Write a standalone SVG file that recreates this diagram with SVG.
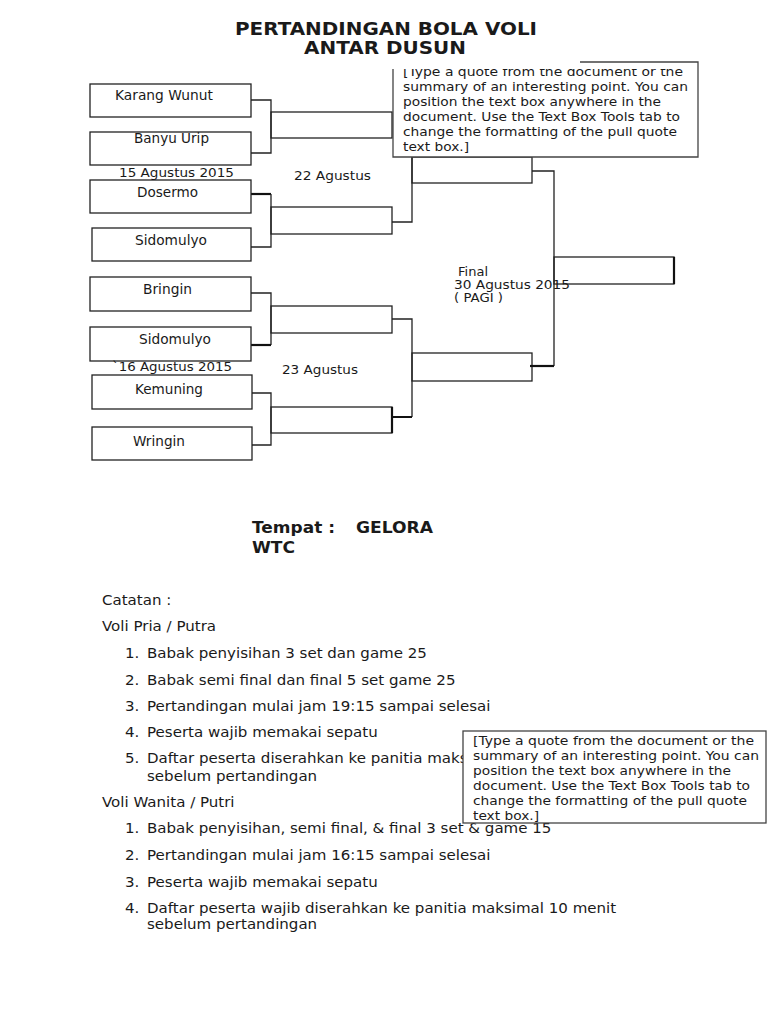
<svg xmlns="http://www.w3.org/2000/svg" width="768" height="1024" viewBox="0 0 768 1024">
<style>
text{font-family:"DejaVu Sans","Liberation Sans",sans-serif;fill:#1a1a1a}
.title{font-size:18px;font-weight:bold;text-anchor:middle}
.team{font-size:13.5px;text-anchor:middle}
.date{font-size:13px}
.box{fill:#fff;stroke:#222;stroke-width:1.3}
.ln{fill:none;stroke:#222;stroke-width:1.3}
.thick{fill:none;stroke:#111;stroke-width:2.2}
.quote{font-size:12.8px}
.qbox{fill:#fff;stroke:#444;stroke-width:1.3}
.body{font-size:14px}
.bold{font-size:16px;font-weight:bold}
</style>
<defs>
<clipPath id="qclip"><rect x="380" y="69" width="330" height="100"/></clipPath>
</defs>
<rect width="768" height="1024" fill="#fff"/>

<g id="title">
<text class="title" x="386" y="35" textLength="302" lengthAdjust="spacingAndGlyphs">PERTANDINGAN BOLA VOLI</text>
<text class="title" x="385" y="54" textLength="162" lengthAdjust="spacingAndGlyphs">ANTAR DUSUN</text>
</g>

<g id="connectors">
<path class="ln" d="M251,100 H271 V153 H251"/>
<rect class="ln" x="271" y="112" width="121" height="26"/>
<path class="thick" d="M251,194 H271"/>
<path class="ln" d="M271,194 V247 H251"/>
<rect class="ln" x="271" y="207" width="121" height="27"/>
<path class="ln" d="M392,222 H412 V157"/>
<rect class="ln" x="412" y="157" width="120" height="26"/>
<path class="ln" d="M251,293 H271 V345"/>
<path class="thick" d="M251,345 H271"/>
<rect class="ln" x="271" y="306" width="121" height="27"/>
<path class="ln" d="M252,393 H271 V445 H252"/>
<rect class="ln" x="271" y="407" width="121" height="26"/>
<path class="ln" d="M392,319 H412 V417"/>
<path class="thick" d="M392,417 H412 M392,407 V433"/>
<rect class="ln" x="412" y="353" width="120" height="28"/>
<path class="ln" d="M532,171 H554 V366"/>
<path class="thick" d="M530,366 H554"/>
<rect class="ln" x="554" y="257" width="120" height="27"/>
<path class="thick" d="M674,257 V284"/>
</g>

<g id="team-karang-wunut"><rect class="box" x="90" y="84" width="161" height="33"/><text class="team" x="164" y="100" textLength="98" lengthAdjust="spacingAndGlyphs">Karang Wunut</text></g>
<g id="team-banyu-urip"><rect class="box" x="90" y="132" width="161" height="33"/><text class="team" x="171.5" y="143" textLength="75" lengthAdjust="spacingAndGlyphs">Banyu Urip</text></g>
<g id="team-dosermo"><rect class="box" x="90" y="180" width="161" height="33"/><text class="team" x="167.5" y="197" textLength="61" lengthAdjust="spacingAndGlyphs">Dosermo</text></g>
<g id="team-sidomulyo-1"><rect class="box" x="92" y="228" width="159" height="33"/><text class="team" x="171" y="245" textLength="72" lengthAdjust="spacingAndGlyphs">Sidomulyo</text></g>
<g id="team-bringin"><rect class="box" x="90" y="277" width="161" height="34"/><text class="team" x="167.5" y="294" textLength="49" lengthAdjust="spacingAndGlyphs">Bringin</text></g>
<g id="team-sidomulyo-2"><rect class="box" x="90" y="327" width="161" height="34"/><text class="team" x="175" y="344" textLength="72" lengthAdjust="spacingAndGlyphs">Sidomulyo</text></g>
<g id="team-kemuning"><rect class="box" x="92" y="375" width="160" height="34"/><text class="team" x="169" y="394" textLength="68" lengthAdjust="spacingAndGlyphs">Kemuning</text></g>
<g id="team-wringin"><rect class="box" x="92" y="427" width="160" height="33"/><text class="team" x="159" y="446" textLength="52" lengthAdjust="spacingAndGlyphs">Wringin</text></g>

<g id="dates">
<text class="date" x="119" y="177" textLength="115" lengthAdjust="spacingAndGlyphs">15 Agustus 2015</text>
<text class="date" x="294" y="180" textLength="77" lengthAdjust="spacingAndGlyphs">22 Agustus</text>
<text class="date" x="112" y="371" textLength="120" lengthAdjust="spacingAndGlyphs">`16 Agustus 2015</text>
<text class="date" x="282" y="374" textLength="76" lengthAdjust="spacingAndGlyphs">23 Agustus</text>
<text class="date" x="458" y="276" textLength="30" lengthAdjust="spacingAndGlyphs">Final</text>
<text class="date" x="454" y="289" textLength="116" lengthAdjust="spacingAndGlyphs">30 Agustus 2015</text>
<text class="date" x="454" y="302" textLength="49" lengthAdjust="spacingAndGlyphs">( PAGI )</text>
</g>

<g id="quote-1">
<rect x="393" y="62" width="305" height="95" fill="#fff"/>
<path class="ln" d="M580,62 H698 V157 H393 V69" style="stroke:#444"/>
<g clip-path="url(#qclip)">
<text class="quote" x="403" y="76" textLength="280" lengthAdjust="spacingAndGlyphs">[Type a quote from the document or the</text>
</g>
<text class="quote" x="403" y="91" textLength="285" lengthAdjust="spacingAndGlyphs">summary of an interesting point. You can</text>
<text class="quote" x="403" y="106" textLength="258" lengthAdjust="spacingAndGlyphs">position the text box anywhere in the</text>
<text class="quote" x="403" y="121" textLength="277" lengthAdjust="spacingAndGlyphs">document. Use the Text Box Tools tab to</text>
<text class="quote" x="403" y="136" textLength="274" lengthAdjust="spacingAndGlyphs">change the formatting of the pull quote</text>
<text class="quote" x="403" y="151" textLength="66" lengthAdjust="spacingAndGlyphs">text box.]</text>
</g>

<g id="venue">
<text class="bold" x="252" y="533" textLength="83" lengthAdjust="spacingAndGlyphs">Tempat :</text>
<text class="bold" x="356" y="533" textLength="77" lengthAdjust="spacingAndGlyphs">GELORA</text>
<text class="bold" x="252" y="553" textLength="43" lengthAdjust="spacingAndGlyphs">WTC</text>
</g>

<g id="notes" transform="translate(102,0) scale(1.075,1) translate(-102,0)">
<text class="body" x="102" y="605">Catatan :</text>
<text class="body" x="102" y="631">Voli Pria / Putra</text>
<text class="body" x="123.4" y="658">1.</text><text class="body" x="143.9" y="658">Babak penyisihan 3 set dan game 25</text>
<text class="body" x="123.4" y="685">2.</text><text class="body" x="143.9" y="685">Babak semi final dan final 5 set game 25</text>
<text class="body" x="123.4" y="711">3.</text><text class="body" x="143.9" y="711">Pertandingan mulai jam 19:15 sampai selesai</text>
<text class="body" x="123.4" y="737">4.</text><text class="body" x="143.9" y="737">Peserta wajib memakai sepatu</text>
<text class="body" x="123.4" y="763">5.</text><text class="body" x="143.9" y="763">Daftar peserta diserahkan ke panitia maksimal 10 menit</text>
<text class="body" x="143.9" y="781">sebelum pertandingan</text>
<text class="body" x="102" y="807">Voli Wanita / Putri</text>
<text class="body" x="123.4" y="833">1.</text><text class="body" x="143.9" y="833">Babak penyisihan, semi final, &amp; final 3 set &amp; game 15</text>
<text class="body" x="123.4" y="860">2.</text><text class="body" x="143.9" y="860">Pertandingan mulai jam 16:15 sampai selesai</text>
<text class="body" x="123.4" y="887">3.</text><text class="body" x="143.9" y="887">Peserta wajib memakai sepatu</text>
<text class="body" x="123.4" y="913">4.</text><text class="body" x="143.9" y="913">Daftar peserta wajib diserahkan ke panitia maksimal 10 menit</text>
<text class="body" x="143.9" y="929">sebelum pertandingan</text>
</g>

<g id="quote-2">
<rect class="qbox" x="463" y="731" width="303" height="92"/>
<text class="quote" x="473" y="745" textLength="281" lengthAdjust="spacingAndGlyphs">[Type a quote from the document or the</text>
<text class="quote" x="473" y="760" textLength="286" lengthAdjust="spacingAndGlyphs">summary of an interesting point. You can</text>
<text class="quote" x="473" y="775" textLength="258" lengthAdjust="spacingAndGlyphs">position the text box anywhere in the</text>
<text class="quote" x="473" y="790" textLength="277" lengthAdjust="spacingAndGlyphs">document. Use the Text Box Tools tab to</text>
<text class="quote" x="473" y="805" textLength="274" lengthAdjust="spacingAndGlyphs">change the formatting of the pull quote</text>
<text class="quote" x="473" y="820" textLength="66" lengthAdjust="spacingAndGlyphs">text box.]</text>
</g>
</svg>
